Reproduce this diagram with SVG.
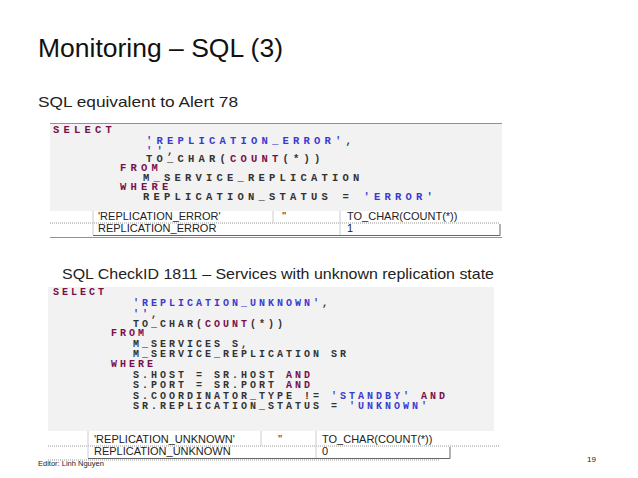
<svg xmlns="http://www.w3.org/2000/svg" width="638" height="478" viewBox="0 0 638 478">
<style>
.c{font-family:"Liberation Mono",monospace;font-weight:bold;fill:#333}
.k{fill:#7a0f4a}.s{fill:#3a3ad0}
.t{font-family:"Liberation Sans",Arial,sans-serif;fill:#222}
</style>
<rect width="638" height="478" fill="#fff"/>
<text x="38" y="57" font-family="Liberation Sans,sans-serif" font-size="25" fill="#111" textLength="245" lengthAdjust="spacingAndGlyphs">Monitoring – SQL (3)</text>
<text x="38" y="107" class="t" font-size="15" textLength="200" lengthAdjust="spacingAndGlyphs">SQL equivalent to Alert 78</text>
<g id="query1">
<rect x="50" y="123" width="452" height="88" fill="#f2f2f2"/>
<line x1="50" y1="123.5" x2="502" y2="123.5" stroke="#7f95b5"/>
<g class="c" font-size="10.5" letter-spacing="4.2">
<text x="53" y="133" class="k">SELECT</text>
<text x="146" y="144" class="s">'REPLICATION_ERROR'<tspan fill="#333">,</tspan></text>
<text x="146" y="154" class="s">''<tspan fill="#333">,</tspan></text>
<text x="146" y="162">TO_CHAR(<tspan class="k">COUNT</tspan>(*))</text>
<text x="120" y="171" class="k">FROM</text>
<text x="143" y="181">M_SERVICE_REPLICATION</text>
<text x="120" y="190" class="k">WHERE</text>
<text x="143" y="200">REPLICATION_STATUS = <tspan class="s">'ERROR'</tspan></text>
</g>
<g class="t" font-size="11" fill="#333">
<line x1="50" y1="223" x2="500" y2="223" stroke="#999" stroke-dasharray="1,1"/>
<line x1="93" y1="211" x2="93" y2="235" stroke="#ccc"/>
<line x1="273" y1="211" x2="273" y2="223" stroke="#ccc"/>
<line x1="340" y1="211" x2="340" y2="235" stroke="#ccc"/>
<text x="98" y="220">'REPLICATION_ERROR'</text>
<text x="282" y="220">''</text>
<text x="347" y="220">TO_CHAR(COUNT(*))</text>
<text x="98" y="232">REPLICATION_ERROR</text>
<text x="347" y="232">1</text>
<path d="M93 235.5H500V224" fill="none" stroke="#666"/>
<line x1="50" y1="237.5" x2="502" y2="237.5" stroke="#7f95b5"/>
</g>
</g>
<text x="62" y="279" class="t" font-size="15" textLength="432" lengthAdjust="spacingAndGlyphs">SQL CheckID 1811 – Services with unknown replication state</text>
<g id="query2">
<rect x="48" y="287" width="446" height="144" fill="#f2f2f2"/>
<g class="c" font-size="10" letter-spacing="3">
<text x="53" y="295" class="k">SELECT</text>
<text x="133" y="306" class="s">'REPLICATION_UNKNOWN'<tspan fill="#333">,</tspan></text>
<text x="133" y="317" class="s">''<tspan fill="#333">,</tspan></text>
<text x="133" y="327">TO_CHAR(<tspan class="k">COUNT</tspan>(*))</text>
<text x="111" y="336" class="k">FROM</text>
<text x="133" y="347">M_SERVICES S,</text>
<text x="133" y="357">M_SERVICE_REPLICATION SR</text>
<text x="111" y="367" class="k">WHERE</text>
<text x="133" y="378">S.HOST = SR.HOST <tspan class="k">AND</tspan></text>
<text x="133" y="388">S.PORT = SR.PORT <tspan class="k">AND</tspan></text>
<text x="133" y="399">S.COORDINATOR_TYPE != <tspan class="s">'STANDBY'</tspan> <tspan class="k">AND</tspan></text>
<text x="133" y="409">SR.REPLICATION_STATUS = <tspan class="s">'UNKNOWN'</tspan></text>
</g>
<g class="t" font-size="11" fill="#333">
<line x1="48" y1="446" x2="500" y2="446" stroke="#999" stroke-dasharray="1,1"/>
<line x1="48" y1="460" x2="440" y2="460" stroke="#999" stroke-dasharray="1,1"/>
<line x1="88" y1="431" x2="88" y2="458" stroke="#ccc"/>
<line x1="261" y1="431" x2="261" y2="446" stroke="#ccc"/>
<line x1="316" y1="431" x2="316" y2="458" stroke="#ccc"/>
<text x="94" y="443">'REPLICATION_UNKNOWN'</text>
<text x="278" y="443">''</text>
<text x="322" y="443">TO_CHAR(COUNT(*))</text>
<text x="94" y="455">REPLICATION_UNKNOWN</text>
<text x="322" y="455">0</text>
<path d="M88 458.5H450V447" fill="none" stroke="#666"/>
</g>
</g>
<text x="38" y="466" class="t" font-size="7.5" fill="#999">Editor: Linh Nguyen</text>
<text x="587" y="462" class="t" font-size="8" fill="#999">19</text>
</svg>
